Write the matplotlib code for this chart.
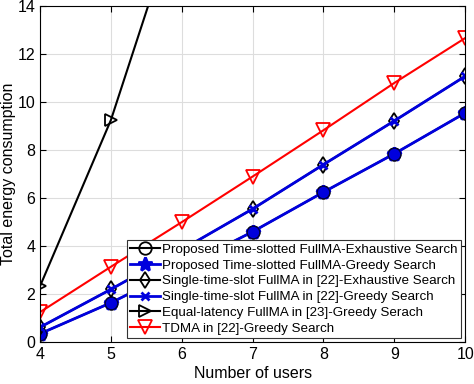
import matplotlib
matplotlib.use("Agg")
import matplotlib.pyplot as plt
import numpy as np

plt.rcParams['font.family'] = ['Liberation Sans', 'DejaVu Sans']

users = [4, 5, 6, 7, 8, 9, 10]
ts_exhaustive = [0.35, 1.64, 3.1, 4.6, 6.25, 7.85, 9.55]
ts_greedy = [0.35, 1.64, 3.1, 4.6, 6.25, 7.85, 9.55]
single_exhaustive = [0.62, 2.2, 3.85, 5.55, 7.4, 9.22, 11.08]
single_greedy = [0.62, 2.2, 3.85, 5.55, 7.4, 9.22, 11.08]
equal_latency = [2.33, 9.25, 18.3, 28.0, 39.0, 51.0, 64.0]
tdma = [1.25, 3.14, 5.0, 6.9, 8.83, 10.8, 12.67]

labels = [
    "Proposed Time-slotted FullMA-Exhaustive Search",
    "Proposed Time-slotted FullMA-Greedy Search",
    "Single-time-slot FullMA in [22]-Exhaustive Search",
    "Single-time-slot FullMA in [22]-Greedy Search",
    "Equal-latency FullMA in [23]-Greedy Serach",
    "TDMA in [22]-Greedy Search",
]

blue = '#0000dd'

fig = plt.figure(figsize=(4.74, 3.84), dpi=100)
ax = fig.add_axes([0.0844, 0.109, 0.897, 0.875])

ax.plot(users, ts_exhaustive, '-o', color='k', mfc='none', ms=9, mew=1.3, lw=1.5, label=labels[0])
ax.plot(users, ts_greedy, '-*', color=blue, ms=10, mew=2, lw=2, label=labels[1])
# the dense asterisk on top of the circle reads as a filled blue disc
ax.plot(users, ts_greedy, 'o', color=blue, mec='#000033', ms=9, mew=0.8)
ax.plot(users, single_exhaustive, '-d', color='k', mfc='none', ms=8, mew=1.3, lw=1.5, label=labels[2])
ax.plot(users, single_greedy, '-x', color=blue, ms=6, mew=2, lw=2, label=labels[3])
ax.plot(users, equal_latency, '->', color='k', mfc='none', ms=9, mew=1.3, lw=1.5, label=labels[4])
ax.plot(users, tdma, '-v', color='#ff0000', mfc='none', ms=10, mew=1.3, lw=1.5, label=labels[5])

ax.set_xlim(4, 10)
ax.set_ylim(0, 14)
ax.set_xticks(users)
ax.set_yticks(np.arange(0, 15, 2))
ax.grid(True, color='#dddddd', lw=0.8)
ax.tick_params(labelsize=11.5, direction='in', length=4, top=True, right=True)
ax.set_xlabel("Number of users", fontsize=11.5, labelpad=3)
ax.set_ylabel("Total energy consumption", fontsize=11.5, labelpad=1)

leg = ax.legend(loc='lower right', fontsize=9.6, handlelength=2.2, handletextpad=0.2,
                labelspacing=0.26, borderpad=0.25, borderaxespad=0.3, fancybox=False,
                edgecolor='#333333', framealpha=1)
leg.get_frame().set_linewidth(0.8)

fig.savefig("out.png", dpi=100)
